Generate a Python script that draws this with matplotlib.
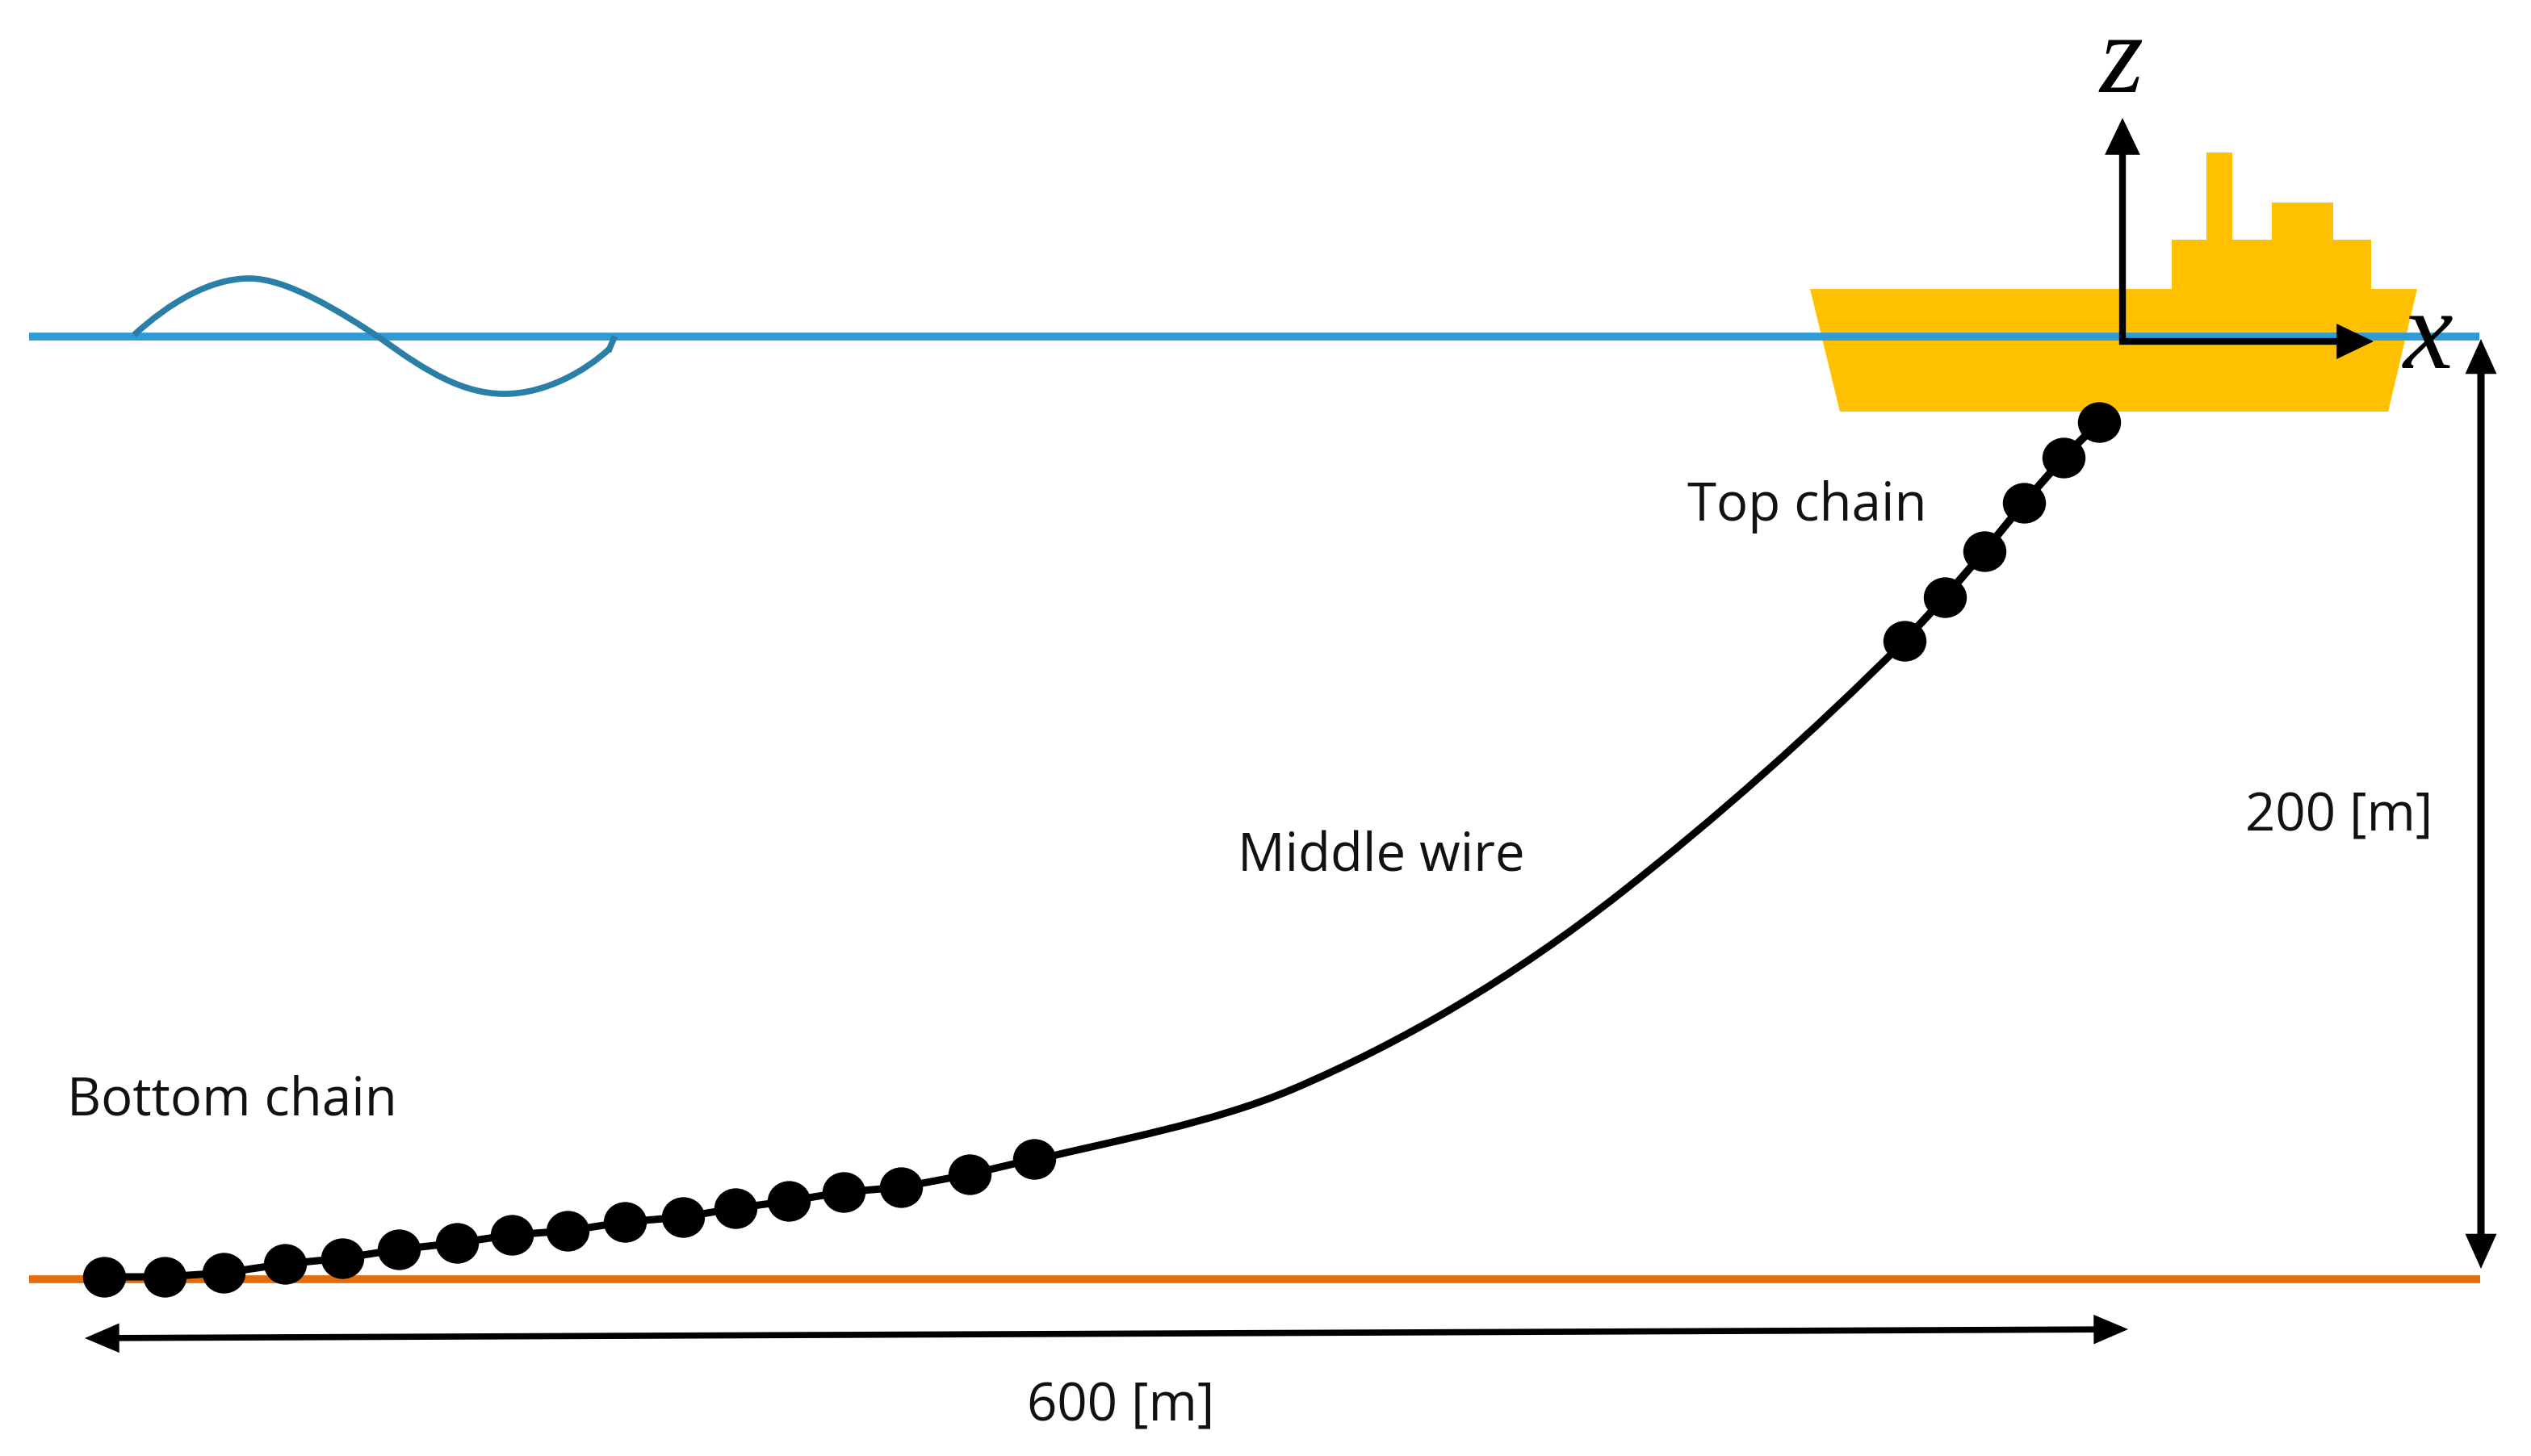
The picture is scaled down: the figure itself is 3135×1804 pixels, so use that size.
import matplotlib
matplotlib.use("Agg")
import matplotlib.pyplot as plt
from matplotlib.patches import Polygon, FancyArrowPatch, PathPatch
from matplotlib.path import Path
from matplotlib.transforms import Affine2D

# All coordinates (px, y downwards)
water_x = [36, 3071]
water_y = [417, 417]
seabed_x = [36, 3072]
seabed_y = [1585, 1585]

# knots and Bezier control points, start + 3 per segment
wave_x = [166, 210, 260, 309, 355, 420, 474, 530, 575, 625, 675, 725, 755]
wave_y = [415, 375, 345, 345, 345, 385, 421, 462, 488, 488, 488, 460, 432]
wave_tail_x = [755, 760]
wave_tail_y = [432, 420]

wire_x = [1279, 1385, 1500, 1600, 1736, 1872, 2008, 2125, 2242, 2359]
wire_y = [1438, 1412, 1392, 1350, 1292, 1213, 1106, 1014, 911, 794]

hull_x = [2242, 2690, 2690, 2733, 2733, 2765, 2765, 2814, 2814, 2890, 2890, 2937, 2937, 2994, 2958, 2279]
hull_y = [358, 358, 297, 297, 189, 189, 297, 297, 251, 251, 297, 297, 358, 358, 510, 510]

top_chain_x = [2600, 2556, 2507, 2458, 2409, 2359]
top_chain_y = [523, 567, 623, 683, 740, 794]

bottom_chain_x = [129, 204, 277, 353, 424, 494, 566, 634, 703, 774, 846, 911, 977, 1045, 1116, 1201, 1281]
bottom_chain_y = [1582, 1582, 1577, 1566, 1559, 1548, 1540, 1530, 1525, 1514, 1508, 1497, 1488, 1477, 1471, 1455, 1436]

labels = ["Top chain", "Middle wire", "Bottom chain", "200 [m]", "600 [m]"]
label_x = [2238, 1711, 287, 2897, 1388]
label_y = [628, 1062, 1365, 1012, 1743]


def bezier(xs, ys):
    codes = [Path.MOVETO] + [Path.CURVE4] * (len(xs) - 1)
    return Path(list(zip(xs, ys)), codes)


fig = plt.figure(figsize=(31.35, 18.04), dpi=100, facecolor="white")
ax = fig.add_axes([0, 0, 1, 1])
ax.set_xlim(0, 3135)
ax.set_ylim(1804, 0)
ax.axis("off")

ax.add_patch(Polygon(list(zip(hull_x, hull_y)), closed=True, fc="#FFC000", ec="none", zorder=1))
ax.plot(water_x, water_y, color="#2E9BD6", lw=7, solid_capstyle="butt", zorder=2)
ax.add_patch(PathPatch(bezier(wave_x, wave_y), fc="none", ec="#2A7FA8", lw=5.5, zorder=3))
ax.plot(wave_tail_x, wave_tail_y, color="#2A7FA8", lw=5.5, zorder=3)
ax.plot(seabed_x, seabed_y, color="#E46C0A", lw=7, solid_capstyle="butt", zorder=2)

ax.add_patch(PathPatch(bezier(wire_x, wire_y), fc="none", ec="black", lw=6.5, zorder=4))
ax.plot(bottom_chain_x, bottom_chain_y, color="black", lw=6.5, zorder=4)
ax.plot(top_chain_x, top_chain_y, color="black", lw=7, zorder=4)

bead = Path.unit_circle().transformed(Affine2D().scale(1.04, 0.98))
ax.scatter(bottom_chain_x, bottom_chain_y, s=1480, marker=bead, color="black", linewidths=0, zorder=5)
ax.scatter(top_chain_x, top_chain_y, s=1480, marker=bead, color="black", linewidths=0, zorder=5)


def arrow(start, end, style, lw, hl, hw):
    ax.add_patch(FancyArrowPatch(start, end, arrowstyle=f"{style},head_length={hl},head_width={hw}",
                                 mutation_scale=1, lw=lw, color="black", shrinkA=0, shrinkB=0,
                                 joinstyle="miter", capstyle="butt", zorder=6))


arrow((2629, 427), (2629, 146), "-|>", 6, 23, 11)
arrow((2625, 423), (2940, 423), "-|>", 6, 23, 11)
arrow((3073, 1572), (3073, 420), "<|-|>", 6.5, 20, 9)
arrow((105, 1658), (2636, 1647), "<|-|>", 5.5, 21, 9)

for t, x, y in zip(labels, label_x, label_y):
    ax.text(x, y, t, fontsize=47, family="Open Sans", ha="center", va="center", color="#111111", zorder=7)
ax.text(2628, 81, "z", fontsize=100, family="Liberation Serif", style="italic", ha="center", va="center", zorder=7)
ax.text(3008, 423, "x", fontsize=100, family="Liberation Serif", style="italic", ha="center", va="center", zorder=7)

fig.savefig("out.png", dpi=100, facecolor="white")
